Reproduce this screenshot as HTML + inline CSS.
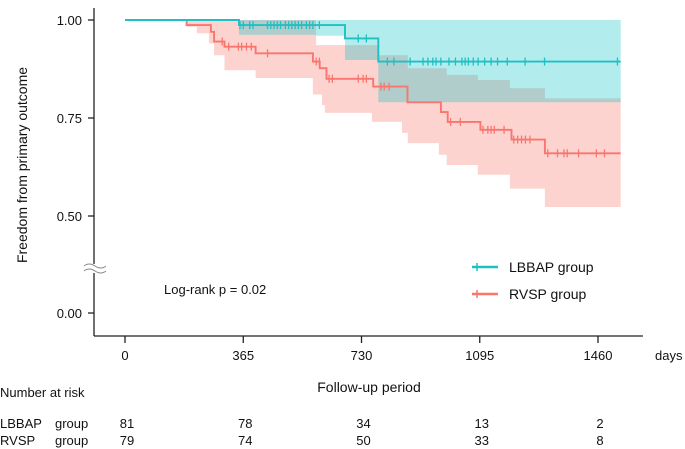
<!DOCTYPE html>
<html><head><meta charset="utf-8">
<style>
html,body{margin:0;padding:0;background:#fff;}
svg{display:block;font-family:"Liberation Sans",Arial,sans-serif;}
</style></head>
<body>
<svg id="chart" width="685" height="449" viewBox="0 0 685 449" xmlns="http://www.w3.org/2000/svg">
  <g id="bands"></g>
  <g id="lines"></g>
  <g id="axes" stroke="#222" stroke-width="1.3" fill="none">
    <line x1="94" y1="8" x2="94" y2="264"/>
    <line x1="94" y1="273" x2="94" y2="336"/>
    <path d="M84,266 q5,-4 11,0 t11,0 M84,271 q5,-4 11,0 t11,0" stroke="#888" stroke-width="1"/>
    <line x1="94" y1="336" x2="643" y2="336"/>
  </g>
  <g id="yticks"></g>
  <g id="xticks"></g>
  <text x="0" y="0" transform="translate(27,165) rotate(-90)" text-anchor="middle" font-size="14" fill="#111">Freedom from primary outcome</text>
  <text x="655" y="360" font-size="13" fill="#111">days</text>
  <text x="369" y="392" text-anchor="middle" font-size="14" fill="#111">Follow-up period</text>
  <text x="164" y="294" font-size="13" fill="#111">Log-rank p = 0.02</text>
  <g>
    <g>
      <line x1="472" y1="267" x2="498" y2="267" stroke="#1EC0C4" stroke-width="2.5"/>
      <line x1="477" y1="263" x2="477" y2="271" stroke="#1EC0C4" stroke-width="1.5"/>
      <text x="509" y="272" font-size="14" fill="#111">LBBAP group</text>
    </g>
    <g>
      <line x1="472" y1="294" x2="498" y2="294" stroke="#F8766D" stroke-width="2.5"/>
      <line x1="477" y1="290" x2="477" y2="298" stroke="#F8766D" stroke-width="1.5"/>
      <text x="509" y="299" font-size="14" fill="#111">RVSP group</text>
    </g>
  </g>
  <g id="risk" font-size="13" fill="#111">
    <text x="0" y="397">Number at risk</text>
    <text x="0" y="428">LBBAP</text>
    <text x="55" y="428">group</text>
    <text x="0" y="445">RVSP</text>
    <text x="55" y="445">group</text>
  </g>
</svg>
<script>
const tickDays = [0, 365, 730, 1095, 1460];
const yTickValues = [1.00, 0.75, 0.50, 0.00];
const yTickLabels = ["1.00", "0.75", "0.50", "0.00"];
const riskLbbap = [81, 78, 34, 13, 2];
const riskRvsp = [79, 74, 50, 33, 8];
const endDay = 1530;
const lbbapSurv = [[0,1],[352,0.987],[679,0.953],[782,0.894]];
const lbbapUpper = [[0,1]];
const lbbapLower = [[0,1],[352,0.962],[590,0.96],[679,0.898],[782,0.79]];
const rvspSurv = [[0,1],[190,0.987],[265,0.97],[275,0.945],[307,0.932],[403,0.915],[580,0.894],[601,0.877],[622,0.85],[766,0.83],[872,0.79],[975,0.765],[996,0.74],[1097,0.72],[1193,0.695],[1296,0.66]];
const rvspUpper = [[0,1],[590,0.936],[782,0.91],[873,0.877],[993,0.86],[1089,0.847],[1188,0.826],[1296,0.80]];
const rvspLower = [[0,1],[190,0.983],[222,0.966],[259,0.94],[275,0.91],[307,0.872],[403,0.852],[580,0.81],[608,0.783],[617,0.763],[762,0.74],[855,0.712],[873,0.686],[969,0.656],[993,0.63],[1089,0.605],[1188,0.57],[1296,0.523]];
const lbbapCensor = [355,365,385,395,440,450,460,470,480,495,505,515,525,535,545,560,570,580,600,720,745,810,830,880,920,935,950,960,975,1000,1020,1040,1050,1060,1075,1090,1110,1130,1150,1180,1235,1295,1520];
const rvspCensor = [300,320,350,360,375,390,440,590,600,630,640,720,735,745,790,800,815,1005,1035,1105,1120,1130,1140,1170,1200,1212,1224,1236,1250,1305,1335,1355,1365,1400,1455,1480];

const NS = "http://www.w3.org/2000/svg";
function xs(d){ return 125 + d * (473/1460); }
// broken y axis: 0.5..1 linear, 0.00 placed below the break
function ys(s){ return s >= 0.45 ? 20 + (1 - s) * 392 : 313 - s * 150; }
function valAt(arr, d){ let v = arr[0][1]; for (const p of arr){ if (p[0] <= d) v = p[1]; } return v; }
function stepPts(arr){
  const pts = [];
  for (let i = 0; i < arr.length; i++){
    const d = arr[i][0], s = arr[i][1];
    if (i > 0) pts.push([xs(d), ys(arr[i-1][1])]);
    pts.push([xs(d), ys(s)]);
  }
  pts.push([xs(endDay), ys(arr[arr.length-1][1])]);
  return pts;
}
function mk(tag, attrs, parent){
  const el = document.createElementNS(NS, tag);
  for (const k in attrs) el.setAttribute(k, attrs[k]);
  parent.appendChild(el); return el;
}
const bands = document.getElementById('bands');
const lines = document.getElementById('lines');
function band(up, lo, color, name){
  const u = stepPts(up), l = stepPts(lo).reverse();
  const d = "M" + u.concat(l).map(p => p[0].toFixed(1) + "," + p[1].toFixed(1)).join(" L") + " Z";
  const el = mk('path', {d: d, fill: color, stroke: 'none'}, bands);
  
  
}
band(rvspUpper, rvspLower, 'rgba(248,118,109,0.32)', 'rvsp-ci-band');
band(lbbapUpper, lbbapLower, 'rgba(0,191,196,0.30)', 'lbbap-ci-band');
function curve(arr, cens, color, name){
  const pts = stepPts(arr);
  const el = mk('polyline', {points: pts.map(p => p[0].toFixed(1) + "," + p[1].toFixed(1)).join(" "), fill: 'none', stroke: color, 'stroke-width': 1.9}, lines);
  
  
  for (const c of cens){
    const x = xs(c), y = ys(valAt(arr, c));
    const t = mk('line', {x1: x, y1: y - 4, x2: x, y2: y + 4, stroke: color, 'stroke-width': 1.3}, lines);
    
    
  }
}
curve(rvspSurv, rvspCensor, '#F8766D', 'rvsp');
curve(lbbapSurv, lbbapCensor, '#1EC0C4', 'lbbap');

const yt = document.getElementById('yticks');
yTickValues.forEach((v, i) => {
  const y = ys(v);
  const l = mk('line', {x1: 88, y1: y, x2: 94, y2: y, stroke: '#222', 'stroke-width': 1.3}, yt);
  
  
  const t = mk('text', {x: 82, y: y + 5, 'text-anchor': 'end', 'font-size': 13, fill: '#111'}, yt);
  t.textContent = yTickLabels[i];
  
  
});
const xt = document.getElementById('xticks');
const risk = document.getElementById('risk');
tickDays.forEach((d, i) => {
  const x = xs(d);
  const l = mk('line', {x1: x, y1: 336, x2: x, y2: 343, stroke: '#222', 'stroke-width': 1.3}, xt);
  
  
  const t = mk('text', {x: x, y: 360, 'text-anchor': 'middle', 'font-size': 13, fill: '#111'}, xt);
  t.textContent = String(d);
  
  
  const a = mk('text', {x: x + 2, y: 428, 'text-anchor': 'middle'}, risk);
  a.textContent = String(riskLbbap[i]);
  
  
  const b = mk('text', {x: x + 2, y: 445, 'text-anchor': 'middle'}, risk);
  b.textContent = String(riskRvsp[i]);
  
  
});
</script>
</body></html>
